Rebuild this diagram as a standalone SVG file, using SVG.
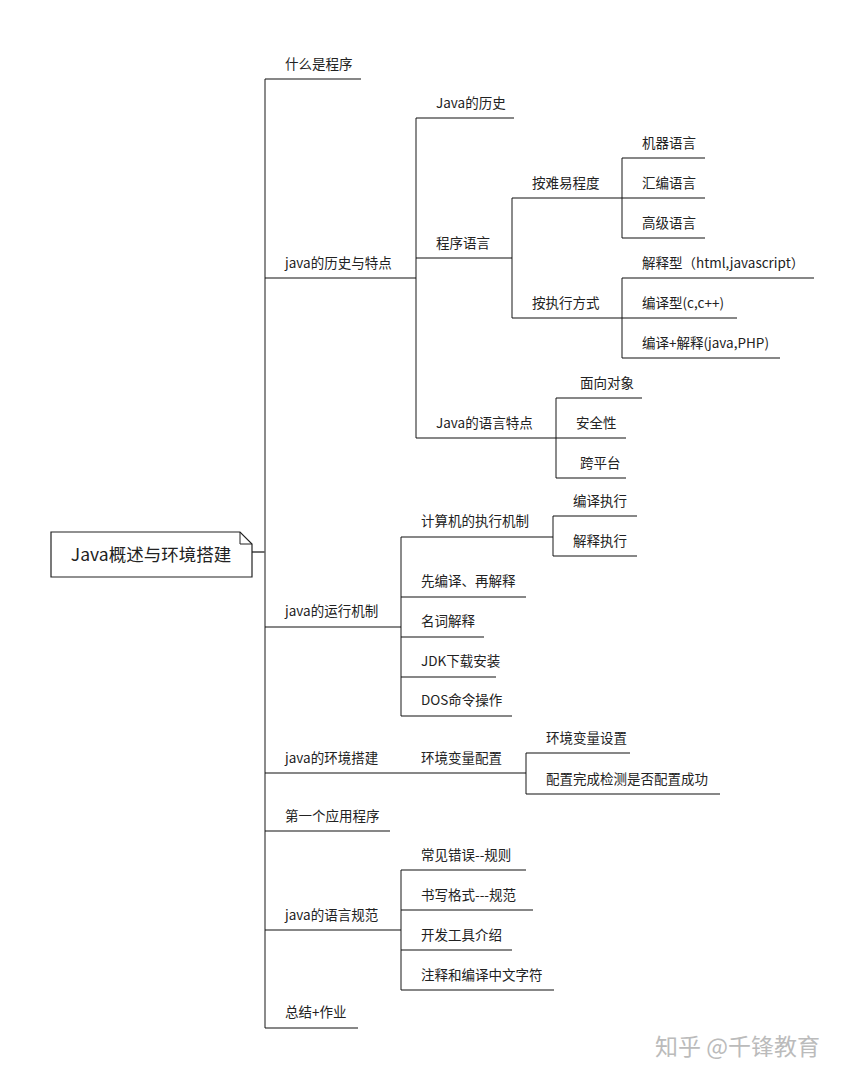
<svg xmlns="http://www.w3.org/2000/svg" width="864" height="1079" viewBox="0 0 864 1079">
<style>
text{font-family:"Noto Sans CJK SC","Noto Sans",sans-serif;font-size:13.5px;fill:#222}
.h{stroke:#111;stroke-width:1.2;fill:none}
.v{stroke:#666;stroke-width:1.5;fill:none}
</style>
<rect width="864" height="1079" fill="#fff"/>
<g id="connectors">
<path class="h" d="M252 552H265"/>
<path class="v" d="M265 79V1028M416 118V438M512 198V318M622 158V238M622 278V358M556 398V478M401 537V716M553 516V556M526 753V794M401 870V990"/>
<path class="h" d="M265 79H361M265 278H416M265 627H401M265 773H526M265 831H390M265 930H401M265 1028H358
M416 118H514M416 258H512M416 438H556M512 198H622M512 318H737M622 158H705M622 198H705M622 238H705M622 278H814M622 358H780
M556 398H642M556 438H626M556 478H626M401 537H553M401 597H526M401 637H484M401 677H496M401 716H512M553 516H637M553 556H637
M526 753H630M526 794H720M401 870H526M401 910H533M401 950H512M401 990H554"/>
</g>
<g id="root">
<path d="M51 532H240L252 544V577H51Z" fill="#fff" stroke="#222" stroke-width="1.2"/>
<path d="M240 532V544H252" fill="none" stroke="#222"/>
<text x="151" y="561" text-anchor="middle" style="font-size:17.5px">Java概述与环境搭建</text>
</g>
<g id="labels">
<text x="285" y="69">什么是程序</text>
<text x="285" y="268">java的历史与特点</text>
<text x="285" y="616">java的运行机制</text>
<text x="285" y="763">java的环境搭建</text>
<text x="285" y="821">第一个应用程序</text>
<text x="285" y="920">java的语言规范</text>
<text x="285" y="1017">总结+作业</text>
<text x="436" y="108">Java的历史</text>
<text x="436" y="248">程序语言</text>
<text x="436" y="428">Java的语言特点</text>
<text x="532" y="188">按难易程度</text>
<text x="532" y="308">按执行方式</text>
<text x="642" y="148">机器语言</text>
<text x="642" y="188">汇编语言</text>
<text x="642" y="228">高级语言</text>
<text x="642" y="268">解释型（html,javascript）</text>
<text x="642" y="308">编译型(c,c++)</text>
<text x="642" y="348">编译+解释(java,PHP)</text>
<text x="580" y="388">面向对象</text>
<text x="576" y="428">安全性</text>
<text x="580" y="468">跨平台</text>
<text x="421" y="526">计算机的执行机制</text>
<text x="573" y="506">编译执行</text>
<text x="573" y="546">解释执行</text>
<text x="421" y="586">先编译、再解释</text>
<text x="421" y="626">名词解释</text>
<text x="421" y="666">JDK下载安装</text>
<text x="421" y="705">DOS命令操作</text>
<text x="421" y="763">环境变量配置</text>
<text x="546" y="743">环境变量设置</text>
<text x="546" y="784">配置完成检测是否配置成功</text>
<text x="421" y="860">常见错误--规则</text>
<text x="421" y="900">书写格式---规范</text>
<text x="421" y="940">开发工具介绍</text>
<text x="421" y="980">注释和编译中文字符</text>
</g>
<text x="655" y="1055" style="font-size:23px;fill:#bbb">知乎 @千锋教育</text>
</svg>
